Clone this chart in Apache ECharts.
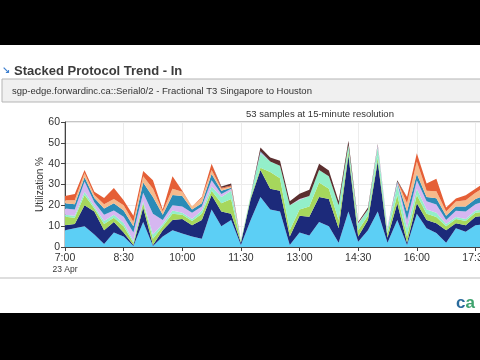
<!DOCTYPE html>
<html>
<head>
<meta charset="utf-8">
<script src="https://cdn.jsdelivr.net/npm/echarts@6/dist/echarts.min.js"></script>
<style>
html,body{margin:0;padding:0;background:#fff;}
#c{width:480px;height:360px;}
</style>
</head>
<body>
<div id="c"></div>
<script>
// ---- data (15-minute samples from 7:00, 23 Apr) ----
var times = ['7:00','7:15','7:30','7:45','8:00','8:15','8:30','8:45','9:00','9:15',
  '9:30','9:45','10:00','10:15','10:30','10:45','11:00','11:15','11:30','11:45',
  '12:00','12:15','12:30','12:45','13:00','13:15','13:30','13:45','14:00','14:15',
  '14:30','14:45','15:00','15:15','15:30','15:45','16:00','16:15','16:30','16:45',
  '17:00','17:15','17:30','17:45','18:00'];
var dateLabel = '23 Apr';
var yTicks = [0,10,20,30,40,50,60];

var layerLightBlue = [8,9,10,6,1.5,7,5,0.5,12,0.5, 5,8,6.5,5,4,18,10,13,1,13, 24,18,17,1,7,5.5,12,10,2,17, 2.5,8,17,2,13,1,16,9,6.7,2, 9,7.3,10.5,11,10];
var layerNavy      = [2.5,2,10,11,6.5,5,2,0.5,7,0.5, 3,5,7,5.5,9,7,7,3,1,10, 13,10,10,4,8,9,12,13,7,27, 2.5,5,24,2.5,8,1,5,4,4.7,6, 2.4,3.2,4,4,4];
var layerGreen     = [4,3,5,1.5,3,2,3,1,2,3, 2,3,2,2,3,2,4,7,0.5,1, 1,8,6,3,3,5,7,5,4,2, 3,2,2,2,4,3,4,3,3,2, 2,2,2,2,2];
var layerMint      = [1,1,1.5,1,1.5,1.5,1.5,1,1,2, 1,1.5,1,1,1.5,2,3,4,0.5,1, 7,5,6,12,4.6,5,6,6,7,3, 3,3,5,2,5,4,3,2,2,1, 1,1,1,1,1];
var layerLavender  = [3,3,5,2,3,2,3,4,4,10, 2,2.5,3,3,2,3,1.5,1,0,0, 0.5,0,0,0,0.5,0,0,0,0,0, 0.5,0,1,1,1,4,4,4,4,2, 3,3.5,3,4,4];
var layerTeal      = [2.5,2.5,2,2,3,3.5,3,3,5,8, 2.5,5,5,1.5,1.5,3,1.5,0.5,0,0, 0.5,0,0,0,0,0,0,0,0,0, 0,0,0,0,0.5,4,3,2,3,2, 2,2.5,2.5,3,3];
var layerPeach     = [1.5,2,2,1.5,2,2,2.5,2,3,4, 1.5,3,2,1.5,2.5,2,1,0.5,0,0, 0,0,0,0,0,0,0,0,0,0, 0,0,0,0,0,4,6,3,3.4,2, 2.5,3,3,4,4];
var layerOrange    = [2,3,1.5,1.5,3,5.3,2.5,3,2.5,4, 1,6,0.5,0,0.5,3,0.5,0.5,0,0, 0,0,0,0,0,0,0,0,0,0, 0,0,0,0,0,3,4,3.5,6,2, 1.4,2.3,2,2,2];
var layerBrown     = [0,0,0,0,0,0,0,0,0,0, 0,0,0,0,0,0,0.5,1,0,0, 1.8,2,2.4,2,2.5,3,3,2.7,2,2, 0.5,1,0.4,0,0.5,0,0,0,0,0, 0,0,0,0,0];

var layers = [layerLightBlue, layerNavy, layerGreen, layerMint, layerLavender, layerTeal, layerPeach, layerOrange, layerBrown];
var colors = ['#5ccff5','#1c2a7a','#a6d75c','#93efc9','#d6b7f1','#2b8bb7','#f6ba8c','#e55f36','#5b2f2f'];

var FONT = 'Liberation Sans, Arial, sans-serif';

var chart = echarts.init(document.getElementById('c'), null, {renderer:'canvas'});

var series = layers.map(function(d, k){
  return {
    type:'line', stack:'all', data:d, symbol:'none', smooth:false,
    lineStyle:{width:0}, areaStyle:{color:colors[k], opacity:1},
    itemStyle:{color:colors[k]}, silent:true, z:2
  };
});

chart.setOption({
  animation:false,
  backgroundColor:'#ffffff',
  grid:{left:65, top:122, height:125, width:430, containLabel:false, outerBoundsMode:'none',
        show:true, borderColor:'#8a8a8a', borderWidth:1, backgroundColor:'transparent'},
  xAxis:{
    type:'category', data:times, boundaryGap:false,
    axisLine:{lineStyle:{color:'#444'}},
    axisTick:{interval:5, length:4, lineStyle:{color:'#444'}},
    splitLine:{show:true, interval:5, lineStyle:{color:'#ececec'}},
    axisLabel:{interval:5, margin:5, color:'#333', fontFamily:FONT, fontSize:10.5, lineHeight:12,
      hideOverlap:false,
      formatter:function(v, i){ return i===0 ? v + '\n{d|' + dateLabel + '}' : v; },
      rich:{d:{fontSize:8.5, fontFamily:FONT, color:'#333', lineHeight:11}}
    }
  },
  yAxis:{
    type:'value', min:yTicks[0], max:yTicks[yTicks.length-1], interval:10,
    name:'Utilization %', nameLocation:'middle', nameGap:20, nameMoveOverlap:false,
    nameTextStyle:{color:'#333', fontFamily:FONT, fontSize:10},
    axisLine:{show:true, lineStyle:{color:'#444'}},
    axisTick:{show:true, length:4, lineStyle:{color:'#444'}},
    splitLine:{show:true, lineStyle:{color:'#ececec'}},
    axisLabel:{margin:5, color:'#333', fontFamily:FONT, fontSize:10.5}
  },
  graphic:[
    {type:'rect', shape:{x:0,y:0,width:480,height:45}, style:{fill:'#000'}, z:100},
    {type:'rect', shape:{x:0,y:313,width:480,height:47}, style:{fill:'#000'}, z:100},
    {type:'text', x:2, y:71, style:{text:'↘', fill:'#3d7fcf', font:'bold 10px DejaVu Sans', textVerticalAlign:'middle'}, z:100},
    {type:'text', x:14, y:71, style:{text:'Stacked Protocol Trend - In', fill:'#3c3c3c', font:'bold 13px ' + FONT, textVerticalAlign:'middle'}, z:100},
    {type:'rect', shape:{x:2,y:79,width:480,height:23}, style:{fill:'#f0f0f0', stroke:'#b5b5b5', lineWidth:1}, z:100},
    {type:'text', x:12, y:91, style:{text:'sgp-edge.forwardinc.ca::Serial0/2 - Fractional T3 Singapore to Houston', fill:'#333', font:'9.5px ' + FONT, textVerticalAlign:'middle'}, z:100},
    {type:'text', x:320, y:114, style:{text:'53 samples at 15-minute resolution', fill:'#333', font:'9.5px ' + FONT, textAlign:'center', textVerticalAlign:'middle'}, z:100},
    {type:'line', shape:{x1:0,y1:278,x2:480,y2:278}, style:{stroke:'#bdbdbd', lineWidth:1}, z:100},
    {type:'text', x:456, y:303, style:{rich:{c:{fill:'#2a6b9c', font:'bold 17px ' + FONT}, a:{fill:'#3ea36e', font:'bold 17px ' + FONT}}, text:'{c|c}{a|a}', textVerticalAlign:'middle'}, z:100}
  ],
  series:series
});
</script>
</body>
</html>
